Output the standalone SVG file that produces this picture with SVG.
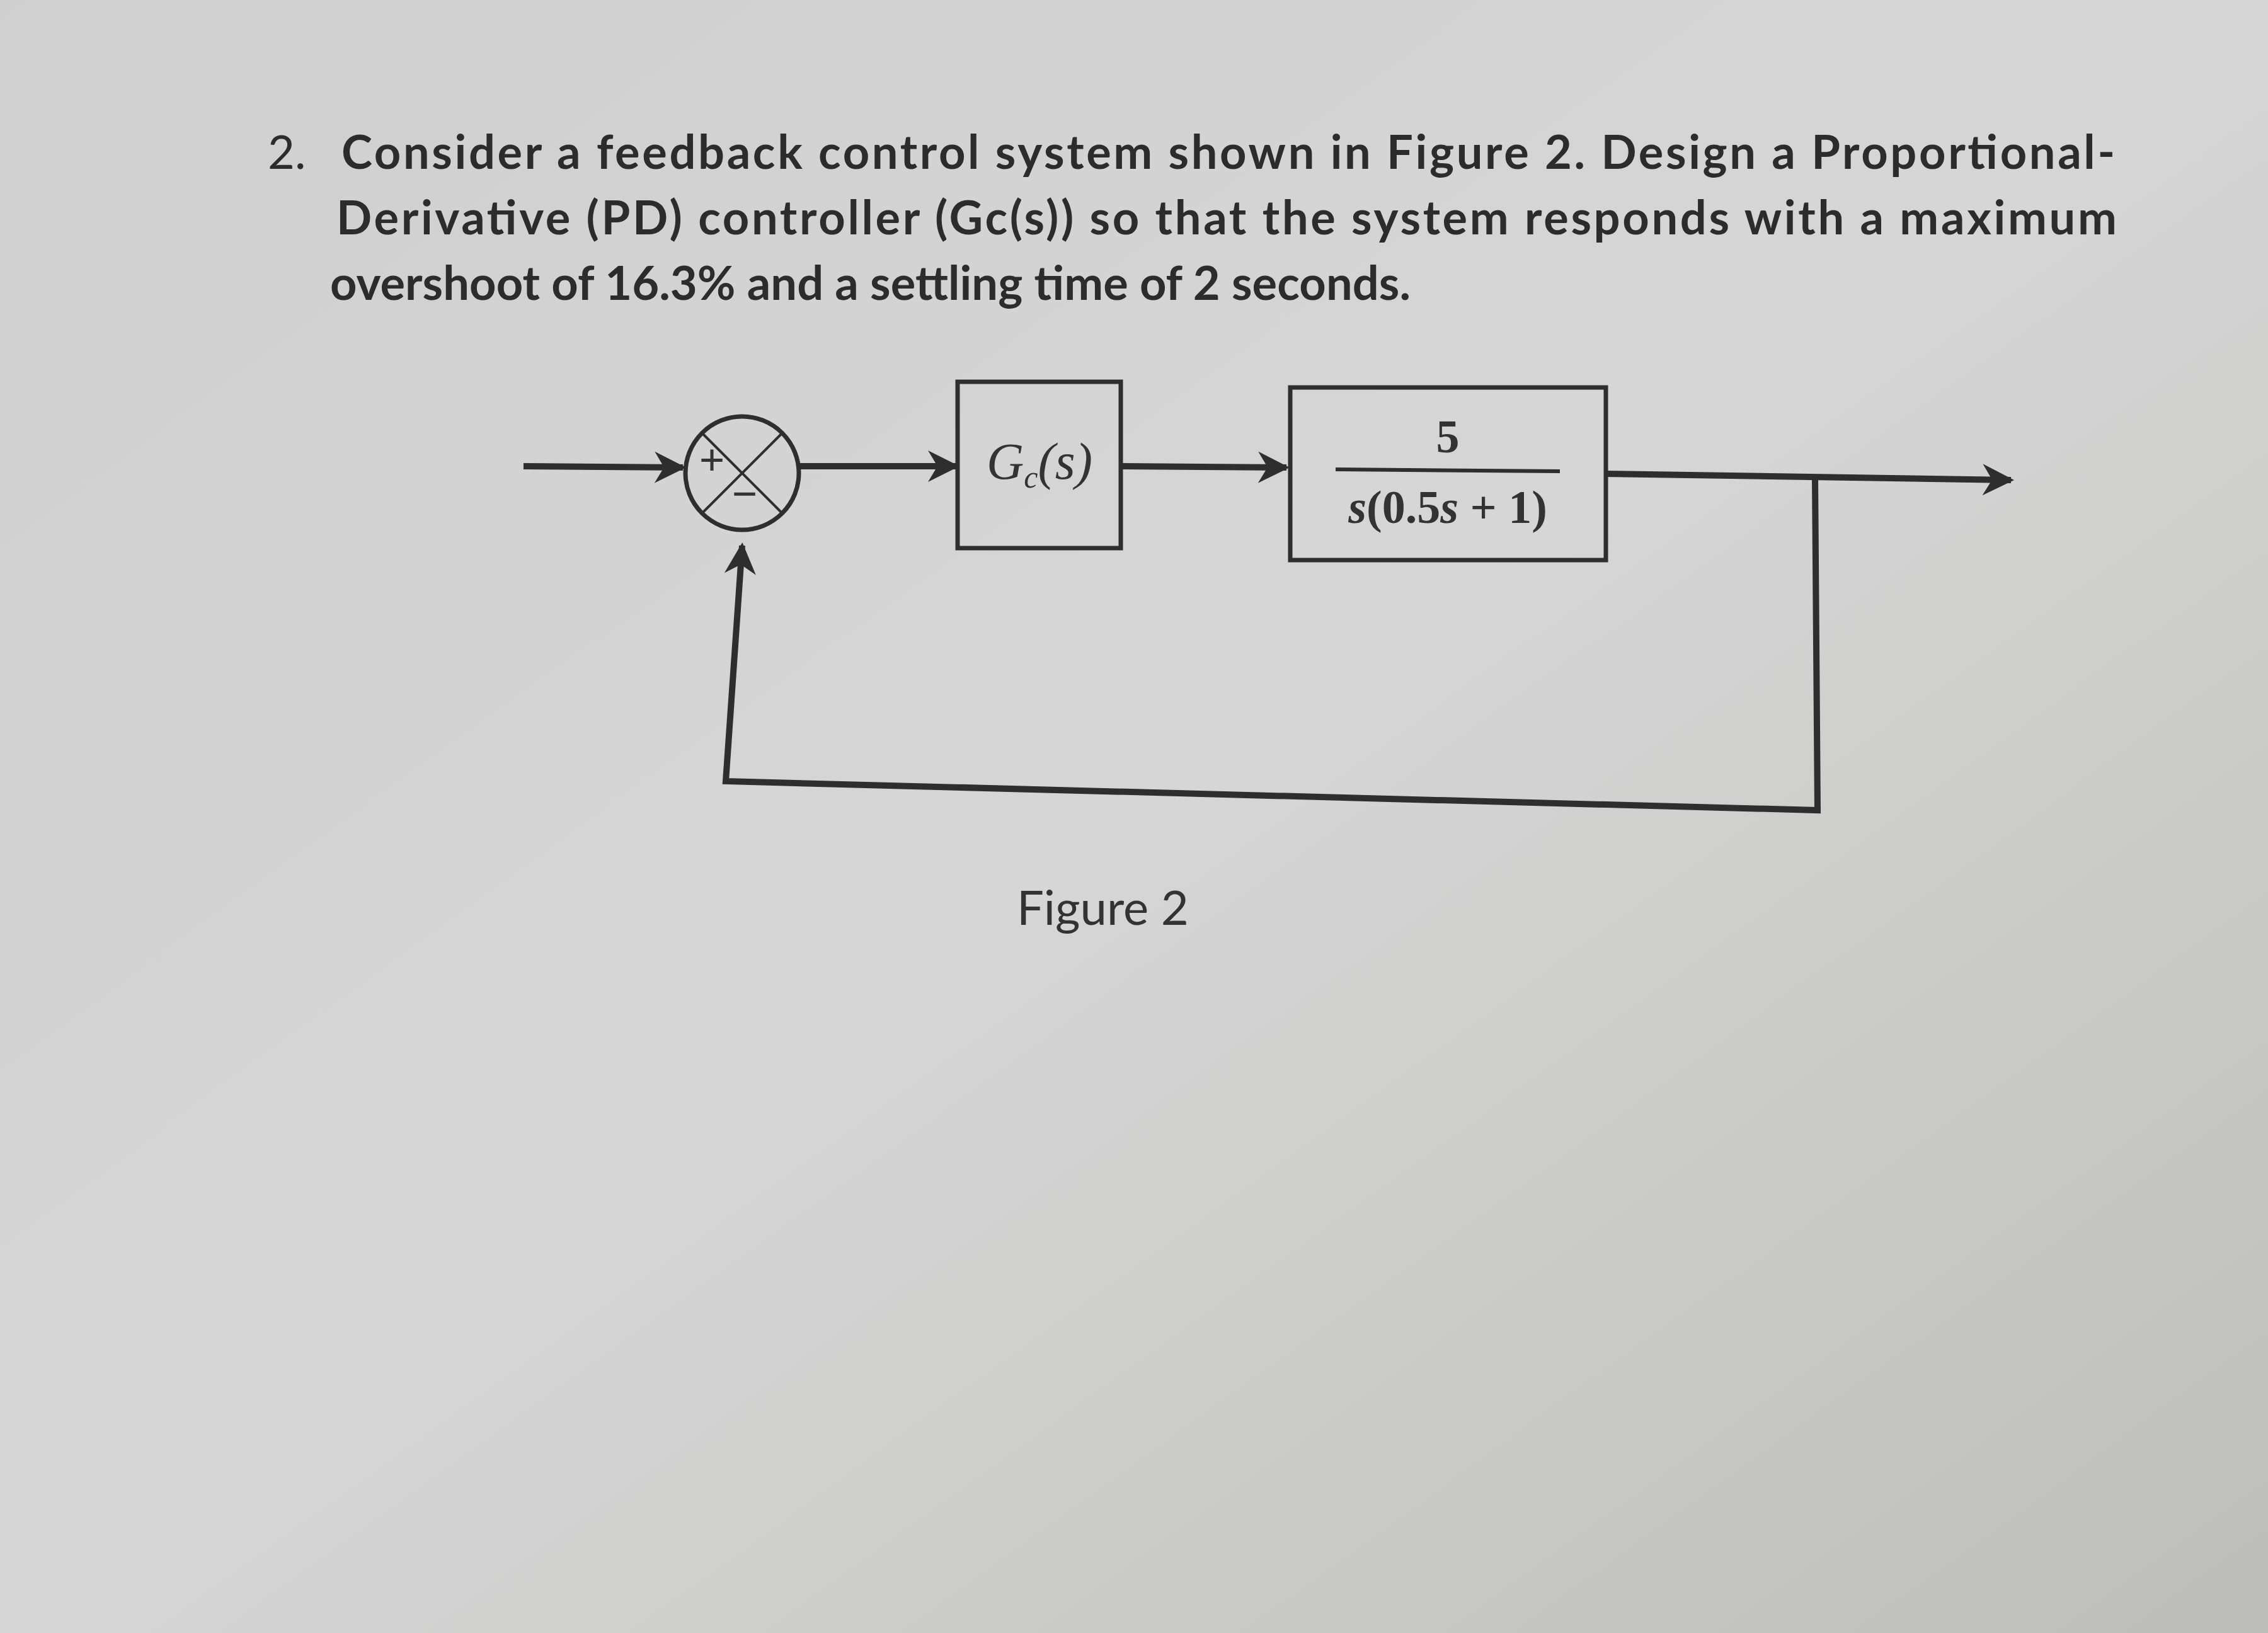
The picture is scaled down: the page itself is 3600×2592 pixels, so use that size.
<svg xmlns="http://www.w3.org/2000/svg" width="3600" height="2592" viewBox="0 0 3600 2592">
<defs>
<linearGradient id="bg" x1="0" y1="0" x2="1" y2="1">
<stop offset="0" stop-color="#cfcfd0"/><stop offset="0.5" stop-color="#d6d6d6"/><stop offset="1" stop-color="#bdbdbb"/>
</linearGradient>
<marker id="ar" viewBox="0 0 10 10" refX="9" refY="5" markerWidth="6" markerHeight="5" markerUnits="strokeWidth" orient="auto">
<path d="M0,0 L10,5 L0,10 L3,5 Z" fill="#2e2e2e"/>
</marker>
<style>
.q{font-family:Lato,"Open Sans",sans-serif;font-weight:bold;font-size:74px;fill:#2c2c2c}
.w{stroke:#2e2e2e;stroke-width:10;fill:none}
.b{stroke:#2e2e2e;stroke-width:7;fill:none}
.m{font-family:"Liberation Serif",serif;fill:#333}
</style>
</defs>
<rect width="3600" height="2592" fill="url(#bg)"/>
<g id="question">
<text x="425" y="268" class="q" style="font-weight:normal">2.</text>
<text x="542" y="268" class="q" textLength="2815" lengthAdjust="spacing">Consider a feedback control system shown in Figure 2. Design a Proportional-</text>
<text x="534" y="372" class="q" textLength="2826" lengthAdjust="spacing">Derivative (PD) controller (Gc(s)) so that the system responds with a maximum</text>
<text x="524" y="476" class="q" textLength="1715" lengthAdjust="spacing">overshoot of 16.3% and a settling time of 2 seconds.</text>
</g>
<g id="connectors">
<line x1="831" y1="740" x2="1084" y2="742" class="w" marker-end="url(#ar)"/>
<line x1="1270" y1="740" x2="1518" y2="740" class="w" marker-end="url(#ar)"/>
<line x1="1779" y1="740" x2="2042" y2="742" class="w" marker-end="url(#ar)"/>
<line x1="2549" y1="752" x2="3192" y2="762" class="w" marker-end="url(#ar)"/>
<polyline points="2881,758 2885,1286 1152,1240 1178,866" class="w" marker-end="url(#ar)"/>
</g>
<g id="sum">
<circle cx="1178" cy="751" r="90" class="b"/>
<line x1="1114" y1="687" x2="1242" y2="815" stroke="#2e2e2e" stroke-width="4"/>
<line x1="1242" y1="687" x2="1114" y2="815" stroke="#2e2e2e" stroke-width="4"/>
<text x="1130" y="754" class="m" font-size="72" font-weight="bold" text-anchor="middle">+</text>
<text x="1182" y="808" class="m" font-size="72" font-weight="bold" text-anchor="middle">−</text>
</g>
<g id="gc">
<rect x="1520" y="606" width="259" height="264" class="b"/>
<text x="1650" y="760" class="m" font-size="82" font-style="italic" text-anchor="middle">G<tspan font-size="50" dy="14">c</tspan><tspan dy="-14">(s)</tspan></text>
</g>
<g id="plant">
<rect x="2048" y="615" width="501" height="274" class="b"/>
<text x="2298" y="718" class="m" font-size="74" font-weight="bold" text-anchor="middle">5</text>
<line x1="2120" y1="745" x2="2476" y2="748" stroke="#2e2e2e" stroke-width="6"/>
<text x="2298" y="830" class="m" font-size="74" font-weight="bold" text-anchor="middle"><tspan font-style="italic">s</tspan>(0.5<tspan font-style="italic">s</tspan> + 1)</text>
</g>
<text x="1614" y="1468" font-family="Lato,'Open Sans',sans-serif" font-size="76" fill="#333">Figure 2</text>
</svg>
